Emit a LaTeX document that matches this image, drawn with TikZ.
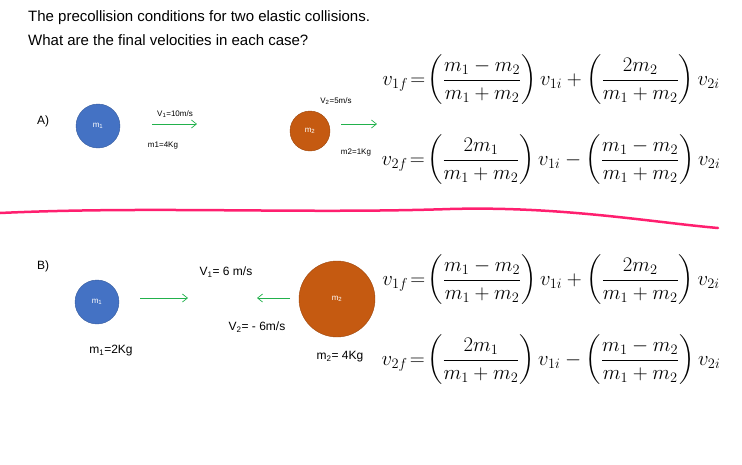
\documentclass[tikz,border=0pt]{standalone}
\usepackage{fontspec}
\setmainfont{Liberation Sans}
\usepackage{amsmath}
\usetikzlibrary{arrows.meta}
\definecolor{cblue}{HTML}{4472C4}
\definecolor{corange}{HTML}{C55A11}
\definecolor{cgreen}{HTML}{22B14C}
\definecolor{cred}{HTML}{FF1F6F}
\tikzset{
 ball/.style={circle,draw=#1!80!black,fill=#1,text=white,inner sep=0pt,font=\fontsize{8}{9}\selectfont},
 small/.style={font=\fontsize{8}{9}\selectfont,inner sep=0pt},
 med/.style={font=\fontsize{12}{14}\selectfont,inner sep=0pt},
 vel/.style={draw=cgreen,-{Straight Barb[length=5pt,width=8pt]},line width=0.7pt},
 eq/.style={inner sep=0pt,font=\fontsize{19.5}{22}\selectfont}
}
\begin{document}
\begin{tikzpicture}[x=1pt,y=-1pt]
\useasboundingbox (0,0) rectangle (742,464);
\node[anchor=west,inner sep=0pt,font=\fontsize{15}{18}\selectfont] (t1) at (28,18) {The precollision conditions for two elastic collisions.};
\node[anchor=west,inner sep=0pt,font=\fontsize{15}{18}\selectfont] (t2) at (28,40) {What are the final velocities in each case?};
% A
\node[med,anchor=west] (la) at (37,121) {A)};
\node[ball=cblue,minimum size=44pt] (a1) at (98,126) {m\textsubscript{1}};
\coordinate (a1s) at (152,124); \coordinate (a1e) at (197,124);
\draw[vel] (a1s) -- (a1e);
\node[small] (av1) at (175,114) {V\textsubscript{1}=10m/s};
\node[small] (am1) at (163,146) {m1=4Kg};
\node[ball=corange,minimum size=40pt] (a2) at (310,131) {m\textsubscript{2}};
\coordinate (a2s) at (341,124); \coordinate (a2e) at (377,124);
\draw[vel] (a2s) -- (a2e);
\node[small] (av2) at (336,101) {V\textsubscript{2}=5m/s};
\node[small] (am2) at (356,153) {m2=1Kg};
% divider
\draw[cred,line width=2.5pt,line cap=round] (0,213) .. controls (150,206) and (300,214) .. (450,209) .. controls (560,206) and (650,222) .. (718,228);
% B
\node[med,anchor=west] (lb) at (37,266) {B)};
\node[ball=cblue,minimum size=44pt] (b1) at (97,302) {m\textsubscript{1}};
\node[med] (bm1) at (111,351) {m\textsubscript{1}=2Kg};
\coordinate (b1s) at (140,298); \coordinate (b1e) at (188,298);
\draw[vel] (b1s) -- (b1e);
\node[med] (bv1) at (226,272) {V\textsubscript{1}= 6 m/s};
\coordinate (b2s) at (290,298); \coordinate (b2e) at (257,298);
\draw[vel] (b2s) -- (b2e);
\node[med] (bv2) at (257,327) {V\textsubscript{2}= - 6m/s};
\node[ball=corange,minimum size=76pt] (b2) at (337,299) {m\textsubscript{2}};
\node[med] (bm2) at (340,357) {m\textsubscript{2}= 4Kg};
% equations
\foreach \y/\n in {80/ea,280/eb}{
\node[eq] (\n1) at (551,\y) {$v_{1f}\!=\!\left(\dfrac{m_1-m_2}{m_1+m_2}\right)v_{1i}+\left(\dfrac{2m_2}{m_1+m_2}\right)v_{2i}$};
}
\foreach \y/\n in {160/ea,360/eb}{
\node[eq] (\n2) at (551,\y) {$v_{2f}\!=\!\left(\dfrac{2m_1}{m_1+m_2}\right)v_{1i}-\left(\dfrac{m_1-m_2}{m_1+m_2}\right)v_{2i}$};
}
\end{tikzpicture}
\end{document}
